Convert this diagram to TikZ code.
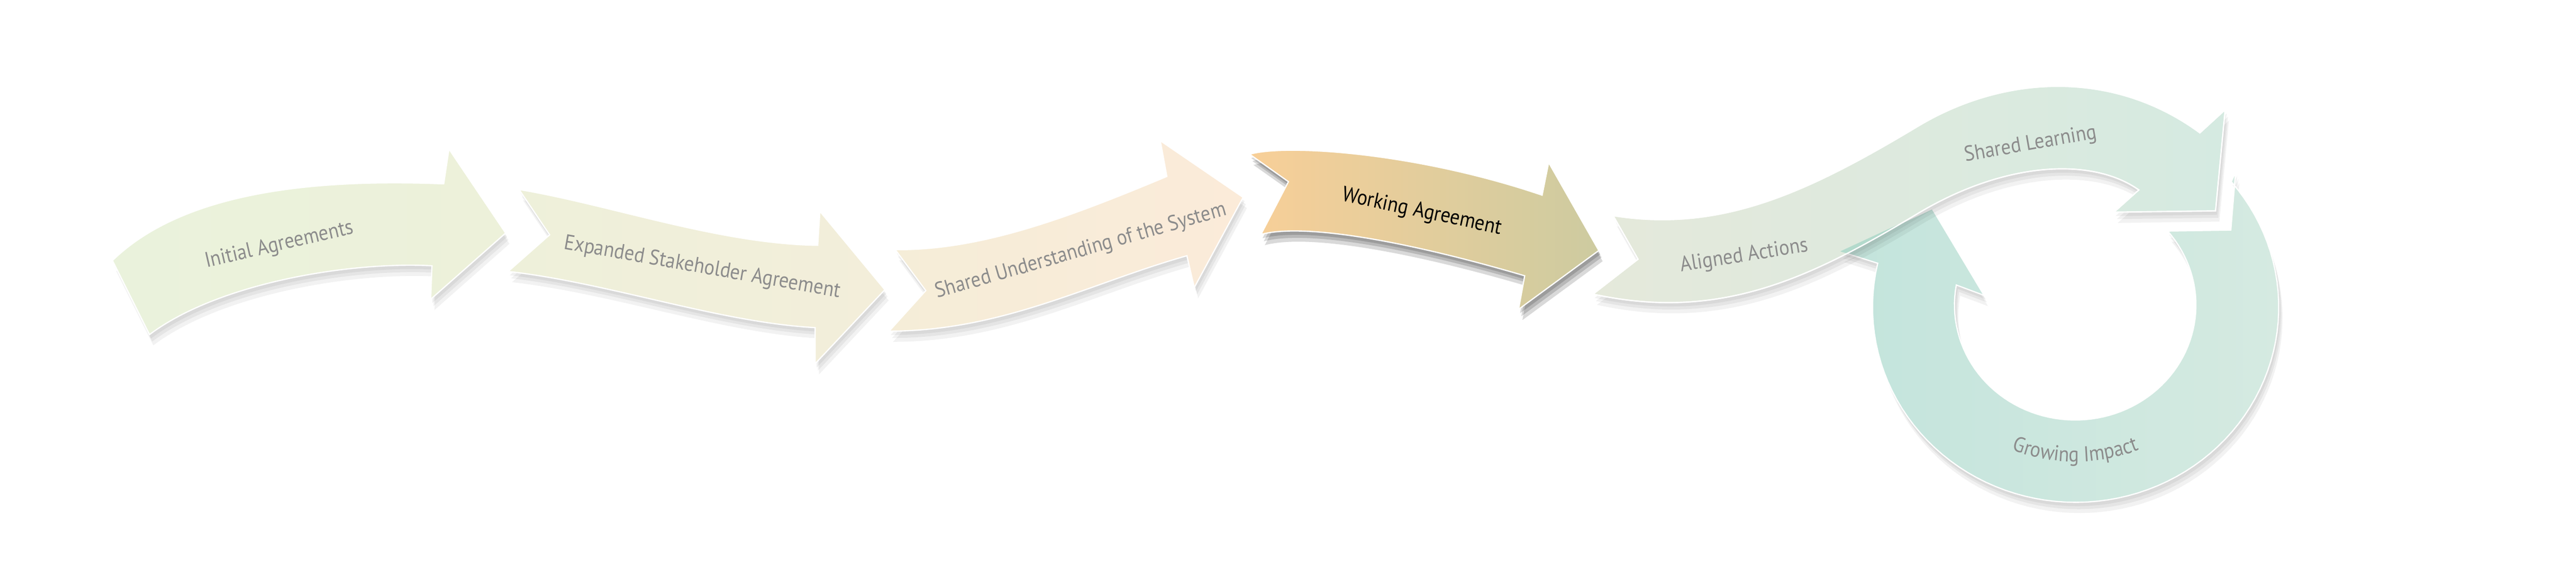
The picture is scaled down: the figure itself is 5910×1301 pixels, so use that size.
\documentclass[tikz,border=0pt]{standalone}
\usepackage{fontspec}
\setmainfont{PT Sans}[FakeStretch=0.9]
\usepackage{tikz}
\usetikzlibrary{decorations.text}
\definecolor{labelgray}{HTML}{8C8C8C}
\definecolor{initleft}{HTML}{EAF2DC}
\definecolor{initright}{HTML}{EDF1DA}
\definecolor{expleft}{HTML}{EEF0DA}
\definecolor{expright}{HTML}{F3EEDA}
\definecolor{undleft}{HTML}{F5EDD8}
\definecolor{undright}{HTML}{FBEBD9}
\definecolor{workleft}{HTML}{F8CF98}
\definecolor{workright}{HTML}{CDCBA0}
\definecolor{learnleft}{HTML}{E5E9DB}
\definecolor{learnright}{HTML}{D5EAE1}
\definecolor{ringleft}{HTML}{C3E4DC}
\definecolor{ringright}{HTML}{D5EAE1}
\definecolor{overlapcol}{HTML}{B3DACC}
\newcommand{\labelfont}{\fontsize{14}{16}\selectfont}
\tikzset{softshadow/.style={
    preaction={fill=black,opacity=#1,transform canvas={xshift=2.5pt,yshift=-7pt}},
    preaction={fill=black,opacity=#1,transform canvas={xshift=1.8pt,yshift=-4.5pt}},
    preaction={fill=black,opacity=#1,transform canvas={xshift=1pt,yshift=-2.5pt}}},
  softshadow/.default=0.05,
  band/.style={softshadow,draw=white,line width=.8pt},
  lbl/.style={text=labelgray,font=\labelfont,inner sep=0pt}}
\newcommand{\learnpath}{(3701,495) .. controls (3950,535) and (4150,440) .. (4400,290)
  .. controls (4600,170) and (4850,160) .. (5047,305) -- (5105,252) -- (5083,484)
  -- (4850,487) -- (4907,436) .. controls (4800,360) and (4600,370) .. (4400,490)
  .. controls (4160,634) and (3950,740) .. (3655,675) -- (3758,595) -- cycle}

\begin{document}
\begin{tikzpicture}[x=0.01cm,y=-0.01cm]
  \useasboundingbox (0,0) rectangle (5910,1301);
  \fill[white] (0,0) rectangle (5910,1301);

  \path[band,left color=initleft,right color=initright] (258,598) .. controls (420,440) and (720,410) .. (1018,422)
    -- (1030,342) -- (1160,535) -- (988,687) -- (991,610) .. controls (800,600) and (500,650) .. (343,768) -- cycle;
  \path[band,left color=expleft,right color=expright] (1191,435) .. controls (1400,470) and (1650,560) .. (1876,563)
    -- (1881,485) -- (2030,665) -- (1870,835) -- (1870,752) .. controls (1650,740) and (1400,650) .. (1166,623)
    -- (1261,539) -- cycle;
  \path[band,left color=undleft,right color=undright] (2054,573) .. controls (2250,575) and (2450,500) .. (2677,405)
    -- (2662,323) -- (2852,453) -- (2740,660) -- (2723,587) .. controls (2500,650) and (2300,760) .. (2040,760)
    -- (2124,667) -- cycle;
  \path[band,softshadow=0.1,left color=workleft,right color=workright] (2867,354) .. controls (2950,330) and (3250,350) .. (3538,448)
    -- (3553,373) -- (3668,575) -- (3484,710) -- (3498,633) .. controls (3250,560) and (3000,510) .. (2893,538)
    -- (2956,417) -- cycle;

  \path[band,left color=ringleft,right color=ringright] (5129,395)
    -- plot[domain=-40:193,samples=80] ({4762+466*cos(\x)},{705+448*sin(\x)})
    -- (4222,577) -- (4433,479) -- (4552,678)
    -- plot[domain=190:-40,samples=80] ({4761+277*cos(\x)},{700+264*sin(\x)})
    -- (5118,528) -- cycle;
  \path[band,left color=learnleft,right color=learnright] \learnpath;
  \begin{scope}
    \clip \learnpath;
    \fill[overlapcol] (4222,577) -- (4433,479) -- (4552,678) -- (4484,658) -- (4298,600) -- cycle;
  \end{scope}
  \draw[white,line width=.8pt] \learnpath;

  \node[lbl,rotate=13] (initial) at (641,563) {Initial Agreements};
  \node[lbl,rotate=-10] (expanded) at (1611,615) {Expanded Stakeholder Agreement};
  \node[lbl,rotate=16] (understanding) at (2480,577) {Shared Understanding of the System};
  \node[lbl,rotate=-12,text=black] (working) at (3262,487) {Working Agreement};
  \node[lbl,rotate=9] (aligned) at (4002,588) {Aligned Actions};
  \node[lbl,rotate=10] (learning) at (4659,332) {Shared Learning};
  \path[decorate,decoration={text along path,text align=center,
      text={|\labelfont\color{labelgray}|Growing Impact}}]
    plot[domain=125:55,samples=40] ({4762+380*cos(\x)},{703+357*sin(\x)});
\end{tikzpicture}
\end{document}
